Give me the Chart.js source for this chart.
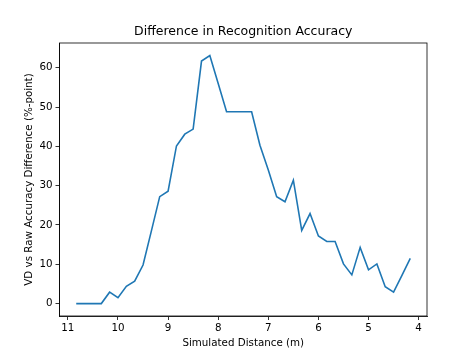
<!DOCTYPE html>
<html>
<head>
<meta charset="utf-8">
<script src="https://cdn.jsdelivr.net/npm/chart.js@4"></script>
<style>
html,body{margin:0;padding:0;background:#fff;}
#wrap{width:474px;height:355px;position:relative;}
</style>
</head>
<body>
<div id="wrap"><canvas id="c" width="474" height="355"></canvas></div>
<script>
const distances = [10.833,10.667,10.5,10.333,10.167,10.0,9.833,9.667,9.5,9.333,9.167,9.0,8.833,8.667,8.5,8.333,8.167,8.0,7.833,7.667,7.5,7.333,7.167,7.0,6.833,6.667,6.5,6.333,6.167,6.0,5.833,5.667,5.5,5.333,5.167,5.0,4.833,4.667,4.5,4.333,4.167];
const accuracyDiff = [0,0,0,0,2.9,1.5,4.4,5.7,9.8,18.5,27.2,28.6,40.1,43.1,44.4,61.7,63.1,56.0,48.8,48.8,48.8,48.8,40.3,34.0,27.2,25.9,31.4,18.6,22.9,17.2,15.8,15.8,10.1,7.3,14.3,8.6,10.1,4.3,2.9,7.2,11.5];
const xTicks = [11,10,9,8,7,6,5,4];
const yTicks = [0,10,20,30,40,50,60];
const chartTitle = 'Difference in Recognition Accuracy';
const xTitle = 'Simulated Distance (m)';
const yTitle = 'VD vs Raw Accuracy Difference (%-point)';

const FONT = 'DejaVu Sans';
const frame = {
  id: 'frame',
  afterDatasetsDraw(chart) {
    const a = chart.chartArea, ctx = chart.ctx;
    ctx.save();
    ctx.strokeStyle = '#000';
    ctx.lineWidth = 0.8;
    ctx.strokeRect(a.left, a.top, a.right - a.left, a.bottom - a.top);
    ctx.restore();
  }
};
const centeredTitle = {
  id: 'centeredTitle',
  afterDraw(chart) {
    const a = chart.chartArea, ctx = chart.ctx;
    ctx.save();
    ctx.fillStyle = '#000';
    ctx.font = '12.5px "' + FONT + '"';
    ctx.textAlign = 'center';
    ctx.textBaseline = 'middle';
    ctx.fillText(chartTitle, (a.left + a.right) / 2, 32);
    ctx.restore();
  }
};

new Chart(document.getElementById('c'), {
  type: 'line',
  data: {
    datasets: [{
      data: distances.map((d, i) => ({x: d, y: accuracyDiff[i]})),
      borderColor: '#1f77b4',
      borderWidth: 1.6,
      pointRadius: 0,
      tension: 0,
      fill: false
    }]
  },
  options: {
    responsive: false,
    animation: false,
    layout: {padding: {left: 0, right: 47, top: 43, bottom: 0}},
    plugins: {
      legend: {display: false},
      tooltip: {enabled: false},
      title: {display: false}
    },
    scales: {
      x: {
        type: 'linear',
        reverse: true,
        min: 3.833,
        max: 11.167,
        afterBuildTicks: s => { s.ticks = xTicks.map(v => ({value: v})); },
        afterFit: s => { s.height = 39; },
        grid: {display: true, drawOnChartArea: false, drawTicks: true, tickLength: 4, color: '#000', tickWidth: 0.8},
        border: {display: true, color: '#000', width: 0.8},
        ticks: {color: '#000', font: {family: FONT, size: 10.3}, padding: 2, maxRotation: 0, autoSkip: false},
        title: {display: true, text: xTitle, color: '#000', font: {family: FONT, size: 10.3}, padding: {top: 2, bottom: 5}}
      },
      y: {
        type: 'linear',
        min: -3.16,
        max: 66.3,
        afterBuildTicks: s => { s.ticks = yTicks.map(v => ({value: v})); },
        afterFit: s => { s.width = 59.5; },
        grid: {display: true, drawOnChartArea: false, drawTicks: true, tickLength: 4, color: '#000', tickWidth: 0.8},
        border: {display: true, color: '#000', width: 0.8},
        ticks: {color: '#000', font: {family: FONT, size: 10.3}, padding: 3, autoSkip: false},
        title: {display: true, text: yTitle, color: '#000', font: {family: FONT, size: 10.3}, padding: {top: 23, bottom: 0}}
      }
    }
  },
  plugins: [frame, centeredTitle]
});
</script>
</body>
</html>
